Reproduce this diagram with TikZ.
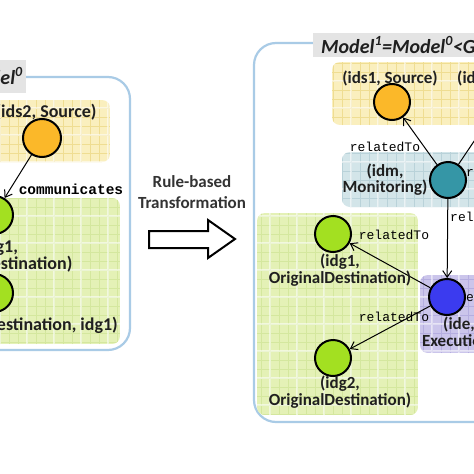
\documentclass[tikz,border=0pt]{standalone}
\usepackage{fontspec}
\setmainfont{Carlito}
\newfontfamily\monof{Liberation Mono}
\usetikzlibrary{arrows.meta}
\definecolor{panelblue}{HTML}{A9CBE6}
\definecolor{titlegray}{HTML}{E4E4E4}
\definecolor{yelF}{HTML}{FAEFBE}
\definecolor{yelG}{HTML}{EFDD92}
\definecolor{grnF}{HTML}{E4F1B6}
\definecolor{grnG}{HTML}{D4E79E}
\definecolor{tealF}{HTML}{D3E5E9}
\definecolor{tealG}{HTML}{B9D2D9}
\definecolor{purF}{HTML}{CBC5EB}
\definecolor{purG}{HTML}{B5AEE0}
\definecolor{orangeC}{HTML}{FBB829}
\definecolor{greenC}{HTML}{A3E021}
\definecolor{tealC}{HTML}{3596A6}
\definecolor{blueC}{HTML}{3B3BEF}
\newcommand\gridbox[6]{%
\begin{scope}
\clip[rounded corners=8pt] (#1,-#2) rectangle (#3,-#4);
\fill[#5] (#1,-#2) rectangle (#3,-#4);
\draw[#6, line width=0.6pt, step=9pt] (#1,-#4) grid (#3,-#2);
\draw[white, line width=1.1pt, opacity=0.55, step=27pt] (#1,-#4) grid (#3,-#2);
\end{scope}}
\tikzset{
 circR/.style={circle, draw=black, line width=2pt, minimum size=36pt, inner sep=0pt},
 circL/.style={circR, minimum size=38pt},
 lblR/.style={font=\bfseries\fontsize{17}{15}\selectfont, align=center, inner sep=0pt, text=black!88},
 lblL/.style={font=\bfseries\fontsize{18}{17}\selectfont, align=center, inner sep=0pt, text=black!88},
 relR/.style={font=\monof\fontsize{13}{13}\selectfont, inner sep=0pt},
 relL/.style={font=\monof\bfseries\fontsize{14.5}{14.5}\selectfont, inner sep=0pt},
 conn/.style={line width=1pt, -{Straight Barb[length=6.5pt,width=9pt]}},
 panel/.style={draw=panelblue, line width=2.2pt, rounded corners=22pt},
 ttl/.style={font=\bfseries\itshape\fontsize{20}{20}\selectfont, inner sep=0pt, text=black!88},
}
\begin{document}
\begin{tikzpicture}[x=1pt,y=1pt]
\useasboundingbox (0,0) rectangle (474,-474);
\clip (0,0) rectangle (474,-474);
\fill[white] (0,0) rectangle (474,-474);
% left panel
\draw[panel] (-40,-77) rectangle (130,-350);
\gridbox{-20}{100}{110}{162}{yelF}{yelG}
\gridbox{-20}{198}{120}{344}{grnF}{grnG}
\fill[titlegray] (-10,-60) rectangle (26,-93);
\node[ttl, anchor=east] (tL) at (23,-76) {Model\textsuperscript{0}};
% right panel
\draw[panel] (254,-43) rectangle (520,-422);
\gridbox{332}{62}{500}{125}{yelF}{yelG}
\gridbox{342}{152}{500}{207}{tealF}{tealG}
\gridbox{257}{213}{418}{415}{grnF}{grnG}
\gridbox{420}{275}{500}{353}{purF}{purG}
\fill[titlegray] (313,-33) rectangle (490,-57);
\node[ttl, anchor=west] (tR) at (321,-45) {Model\textsuperscript{1}=Model\textsuperscript{0}<GOAL>};
% transformation arrow
\node[font=\bfseries\fontsize{17}{21}\selectfont, align=center, text=black!80] (xf) at (192,-192) {Rule-based\\Transformation};
\draw[line width=2pt, fill=white, line join=miter] (149,-231) -- (208,-231) -- (208,-220) -- (235,-239) -- (208,-258) -- (208,-248) -- (149,-248) -- cycle;
% left nodes
\node[circL, fill=orangeC] (s2) at (42,-138) {};
\node[circL, fill=greenC] (g1L) at (-6,-215) {};
\node[circL, fill=greenC] (g2L) at (-6,-293) {};
\node[lblL] (s2t) at (46,-112) {(ids2, Source)};
\node[lblL] (g1Lt) at (-3,-256) {(idg1,\\OriginalDestination)};
\node[lblL, anchor=east] (g2Lt) at (118,-325) {(idg2, OriginalDestination, idg1)};
\draw[conn] (s2) -- (g1L);
\node[relL] (comm) at (71,-189) {communicates};
% right nodes
\node[circR, fill=orangeC] (s1) at (392,-102) {};
\node[circR, fill=tealC] (m) at (448,-180) {};
\node[circR, fill=blueC] (e) at (447,-297) {};
\node[circR, fill=greenC] (g1) at (333,-234) {};
\node[circR, fill=greenC] (g2) at (333,-358) {};
\coordinate (off) at (495,-110);
\draw[conn] (m) -- (s1);
\draw[line width=1pt] (m) -- (off);
\draw[conn] (m) -- (e);
\draw[conn] (e) -- (g1);
\draw[conn] (e) -- (g2);
\node[lblR] (s1t) at (390,-78) {(ids1, Source)};
\node[lblR, anchor=west] (s3t) at (457,-78) {(ids3, Source)};
\node[lblR] (mt) at (385,-180) {(idm,\\Monitoring)};
\node[lblR] (g1t) at (340,-270) {(idg1,\\OriginalDestination)};
\node[lblR] (g2t) at (340,-392) {(idg2,\\OriginalDestination)};
\node[lblR] (et) at (459,-333) {(ide,\\Execution)};
\node[relR] (r1) at (385,-147) {relatedTo};
\node[relR] (r2) at (394,-235) {relatedTo};
\node[relR] (r3) at (394,-317) {relatedTo};
\node[relR, anchor=west] (r4) at (466,-172) {relatedTo};
\node[relR, anchor=west] (r5) at (450,-217) {relatedTo};
\node[relR, anchor=west] (r6) at (466,-297) {executes};
\end{tikzpicture}
\end{document}
